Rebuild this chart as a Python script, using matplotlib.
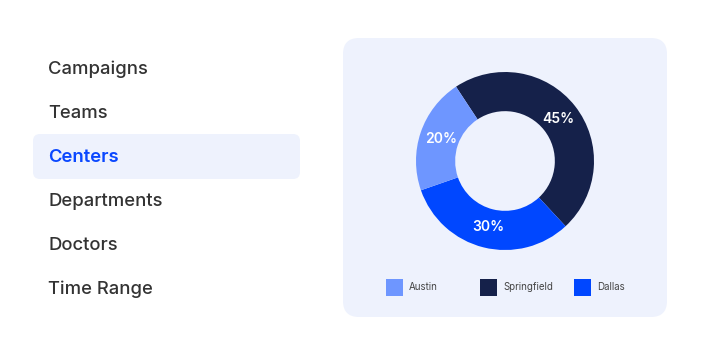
import matplotlib
matplotlib.use("Agg")
import matplotlib.pyplot as plt
from matplotlib.patches import FancyBboxPatch, Rectangle

# menu on the left
menu_items = ["Campaigns", "Teams", "Centers", "Departments", "Doctors", "Time Range"]
selected = "Centers"

# donut data (raw values, shown as labels)
cities = ["Springfield", "Dallas", "Austin"]
values = [45, 30, 20]
colors = ["#15214A", "#0047FF", "#6E96FF"]
legend_order = ["Austin", "Springfield", "Dallas"]

W, H = 705, 355
fig = plt.figure(figsize=(W / 100, H / 100), dpi=100)
fig.patch.set_facecolor("white")

# background axes in pixel coords
bg = fig.add_axes([0, 0, 1, 1])
bg.set_xlim(0, W)
bg.set_ylim(H, 0)
bg.axis("off")

font = "Inter"

# highlight box for selected item
for i, item in enumerate(menu_items):
    y = 68 + i * 44
    if item == selected:
        bg.add_patch(FancyBboxPatch((33, y - 22), 267, 45,
                                    boxstyle="round,pad=0,rounding_size=7",
                                    fc="#EEF2FD", ec="none"))
        col, wt = "#0A47FF", "semibold"
    else:
        col, wt = "#333333", "medium"
    bg.text(48, y + 1.5, item, fontsize=13.3, color=col, fontweight=wt,
            family=font, va="center", ha="left")

# chart panel
bg.add_patch(FancyBboxPatch((343, 38), 324, 279,
                            boxstyle="round,pad=0,rounding_size=16",
                            fc="#EEF2FD", ec="none"))

# legend (drawn manually)
leg_x = [386, 480, 574]
for name, lx in zip(legend_order, leg_x):
    c = colors[cities.index(name)]
    bg.add_patch(Rectangle((lx, 279), 17, 17, fc=c, ec="none"))
    bg.text(lx + 23, 287.5, name, fontsize=7, color="#444444",
            family=font, va="center", ha="left")

# donut axes
cx, cy, r = 505, 161, 89
half = 100
ax = fig.add_axes([(cx - half) / W, 1 - (cy + half) / H, 2 * half / W, 2 * half / H])

wedges, texts = ax.pie(values, colors=colors, startangle=123.4, counterclock=False,
                       radius=1, wedgeprops=dict(width=0.44, edgecolor="none"),
                       labels=[f"{v}%" for v in values], labeldistance=0.76)
for t in texts:
    t.set_color("white")
    t.set_fontsize(10)
    t.set_fontweight("semibold")
    t.set_family(font)
    t.set_ha("center")
    t.set_va("center")
ax.set_xlim(-half / r, half / r)
ax.set_ylim(-half / r, half / r)
ax.set_aspect("equal")
ax.axis("off")

fig.savefig("out.png", dpi=100, facecolor="white")
